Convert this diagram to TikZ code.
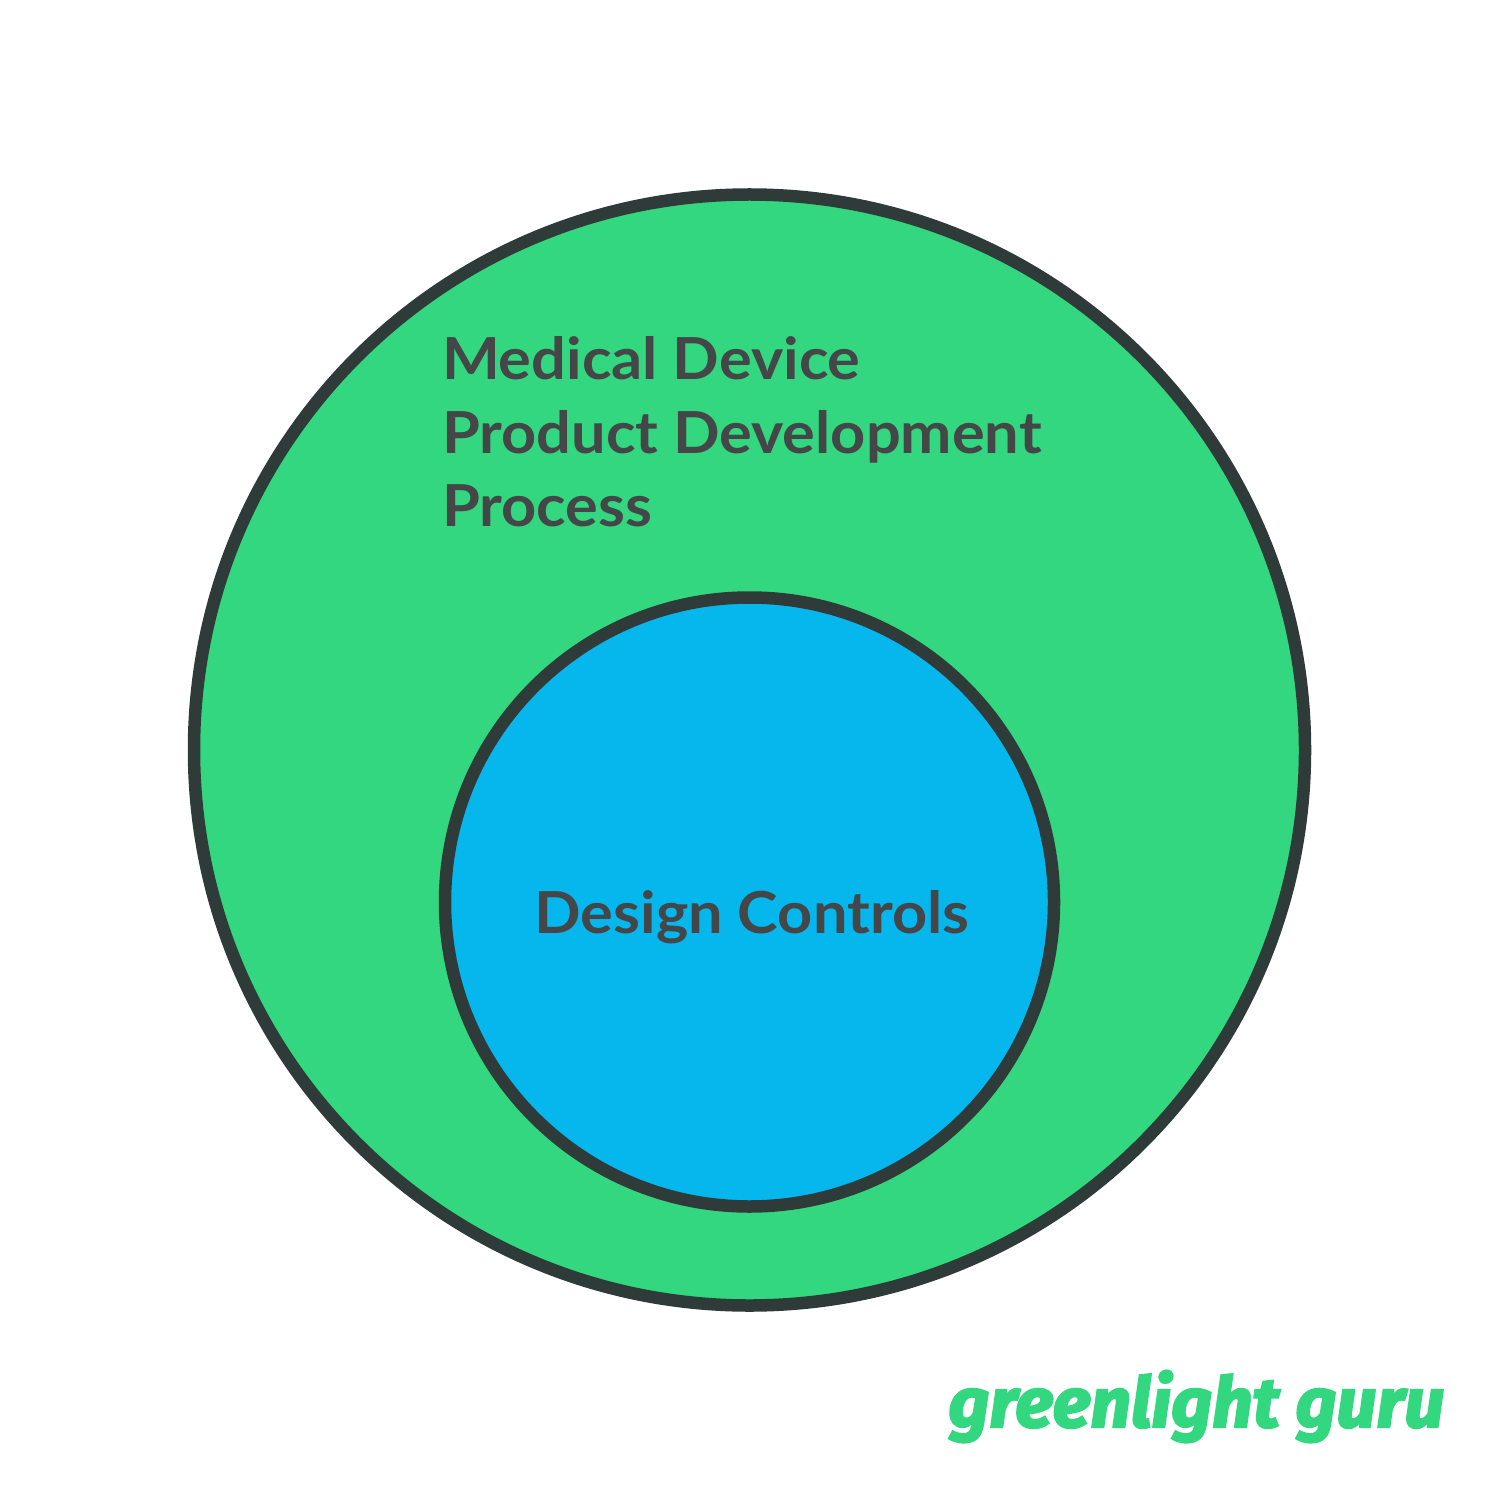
\documentclass[tikz,border=0pt]{standalone}
\usepackage{fontspec}
\setmainfont{Lato}[BoldFont=Lato Bold,BoldFeatures={FakeStretch=1.058}]
\newfontfamily\logofont{Fira Sans}[BoldItalicFeatures={FakeBold=3,FakeStretch=1.02}]
\definecolor{ringc}{HTML}{2F3B39}
\definecolor{greenc}{HTML}{33D77F}
\definecolor{bluec}{HTML}{06B7EE}
\definecolor{textc}{HTML}{444648}
\tikzset{
  ring/.style={circle,draw=ringc,line width=12.5*0.48pt,inner sep=0pt,outer sep=0pt},
  label/.style={text=textc,font=\fontsize{27.8}{35}\selectfont\bfseries,inner sep=0pt,outer sep=0pt}
}
\begin{document}
\begin{tikzpicture}[x=0.48pt,y=-0.48pt]
\useasboundingbox (0,0) rectangle (1500,1500);
\fill[white] (0,0) rectangle (1500,1500);
\node[ring,fill=greenc,minimum size=1111*0.48pt] (outer) at (749.5,750) {};
\node[ring,fill=bluec,minimum size=609*0.48pt] (inner) at (749.5,902) {};
\node[label,anchor=base west,align=left] (t1) at (442,380) {Medical Device};
\node[label,anchor=base west,align=left] (t2) at (442,453) {Product Development};
\node[label,anchor=base west,align=left] (t3) at (442,526) {Process};
\node[label,anchor=base] (t4) at (752,933) {Design Controls};
\node[anchor=base east,inner sep=0pt,text=greenc,font=\logofont\bfseries\itshape\fontsize{33.5}{40}\selectfont] (logo) at (1445,1427) {greenlight guru};
\end{tikzpicture}
\end{document}
